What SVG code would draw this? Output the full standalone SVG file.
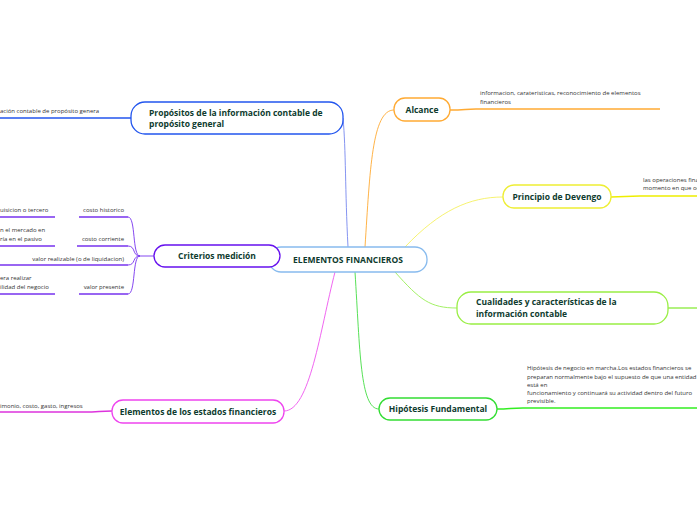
<svg xmlns="http://www.w3.org/2000/svg" width="697" height="520" viewBox="0 0 697 520">
<style>
.n{fill:#fff;stroke-width:1.3}
.t{font-family:"Open Sans","Liberation Sans",sans-serif;font-size:8.5px;font-weight:bold;fill:#0e3b2e}
.s{font-family:"Open Sans","Liberation Sans",sans-serif;font-size:6px;fill:#333}
.c{fill:none;stroke-width:0.9}
.u{fill:none;stroke-width:1.5}
</style>
<rect width="697" height="520" fill="#fff"/>
<g id="connectors">
<path class="c" stroke="#ffaa33" d="M365,247 C370,170 372,110 394,110"/>
<path class="c" stroke="#f5f060" d="M405,247 C440,210 470,197 503,197"/>
<path class="c" stroke="#99ee55" d="M395,272 C420,300 430,308 457,308"/>
<path class="c" stroke="#44dd44" d="M355,272 C360,350 360,409 379,409"/>
<path class="c" stroke="#ee55ee" d="M335,272 C320,330 310,411 284,411"/>
<path class="c" stroke="#7788ee" d="M348,247 C345,190 346,150 343,118"/>
<path class="c" stroke="#8855ee" d="M269,260 L280,256"/>
<path class="u" stroke="#ffaa33" d="M450,110 C465,110 465,109 476,109 L660,109"/>
<path class="u" stroke="#eeee00" d="M611,197 C625,197 625,196 640,196 L697,196"/>
<path class="u" stroke="#99ee55" d="M668,308 L697,308"/>
<path class="u" stroke="#33ee22" d="M497,409 C510,409 510,408 523,408 L697,408"/>
<path class="u" stroke="#dd33dd" d="M112,411 C100,411 98,412 85,412 L0,412"/>
<path class="u" stroke="#2255ee" d="M131,118 L105,118 L0,118"/>
<g stroke="#7733ee">
<path class="c" d="M154,256 L140,256"/>
<path class="c" d="M140,256 C132,256 136,217 128,217"/>
<path class="c" d="M140,256 C132,256 136,246 128,246"/>
<path class="c" d="M140,256 C132,256 136,265 128,265"/>
<path class="c" d="M140,256 C132,256 136,294 128,294"/>
<path class="u" d="M128,217 L79,217 M55,217 L0,217"/>
<path class="u" d="M128,246 L77,246 M55,246 L0,246"/>
<path class="u" d="M128,265 L0,265"/>
<path class="u" d="M128,294 L79,294 M55,294 L0,294"/>
</g>
</g>
<g id="center"><rect class="n" stroke="#88bbee" x="269" y="247" width="158" height="25" rx="12"/><text class="t" x="348" y="263" text-anchor="middle" font-size="9.5">ELEMENTOS FINANCIEROS</text></g>
<g id="alcance"><rect class="n" stroke="#ffaa33" x="394" y="98" width="56" height="23" rx="11"/><text class="t" x="422" y="113" text-anchor="middle">Alcance</text>
<text class="s" x="480" y="95">informacion, carateristicas, reconocimiento de elementos</text><text class="s" x="480" y="104">financieros</text></g>
<g id="devengo"><rect class="n" stroke="#eeee33" x="503" y="185" width="108" height="23" rx="11"/><text class="t" x="557" y="200" text-anchor="middle">Principio de Devengo</text>
<text class="s" x="643" y="182">las operaciones financieras</text><text class="s" x="643" y="190">momento en que ocurren</text></g>
<g id="cualidades"><rect class="n" stroke="#99ee44" x="457" y="292" width="211" height="32" rx="14"/><text class="t" x="476" y="305">Cualidades y características de la</text><text class="t" x="476" y="317">información contable</text></g>
<g id="hipotesis"><rect class="n" stroke="#33dd33" x="379" y="398" width="118" height="22" rx="11"/><text class="t" x="438" y="412" text-anchor="middle">Hipótesis Fundamental</text>
<text class="s" x="527" y="370">Hipótesis de negocio en marcha.Los estados financieros se</text><text class="s" x="527" y="379">preparan normalmente bajo el supuesto de que una entidad</text><text class="s" x="527" y="387">está en</text><text class="s" x="527" y="395">funcionamiento y continuará su actividad dentro del futuro</text><text class="s" x="527" y="403">previsible.</text></g>
<g id="elementos"><rect class="n" stroke="#ee44ee" x="112" y="400" width="172" height="23" rx="11"/><text class="t" x="198" y="415" text-anchor="middle">Elementos de los estados financieros</text>
<text class="s" x="0" y="408">imonio, costo, gasto, ingresos</text></g>
<g id="criterios"><rect class="n" stroke="#6611ee" x="154" y="245" width="126" height="22" rx="11"/><text class="t" x="217" y="259" text-anchor="middle">Criterios medición</text>
<text class="s" x="0" y="212">uisicion o  tercero</text><text class="s" x="124" y="212" text-anchor="end">costo historico</text>
<text class="s" x="0" y="232">n el mercado en</text><text class="s" x="0" y="241">ría en el pasivo</text><text class="s" x="124" y="241" text-anchor="end">costo corriente</text>
<text class="s" x="124" y="261" text-anchor="end">valor realizable (o de liquidacion)</text>
<text class="s" x="0" y="280">era realizar</text><text class="s" x="0" y="289">ilidad del negocio</text><text class="s" x="124" y="289" text-anchor="end">valor presente</text></g>
<g id="propositos"><rect class="n" stroke="#2255ee" x="131" y="102" width="212" height="32" rx="14"/><text class="t" x="149" y="116">Propósitos de la información contable de</text><text class="t" x="149" y="127">propósito general</text>
<text class="s" x="0" y="113">ación contable de propósito genera</text></g>
</svg>
